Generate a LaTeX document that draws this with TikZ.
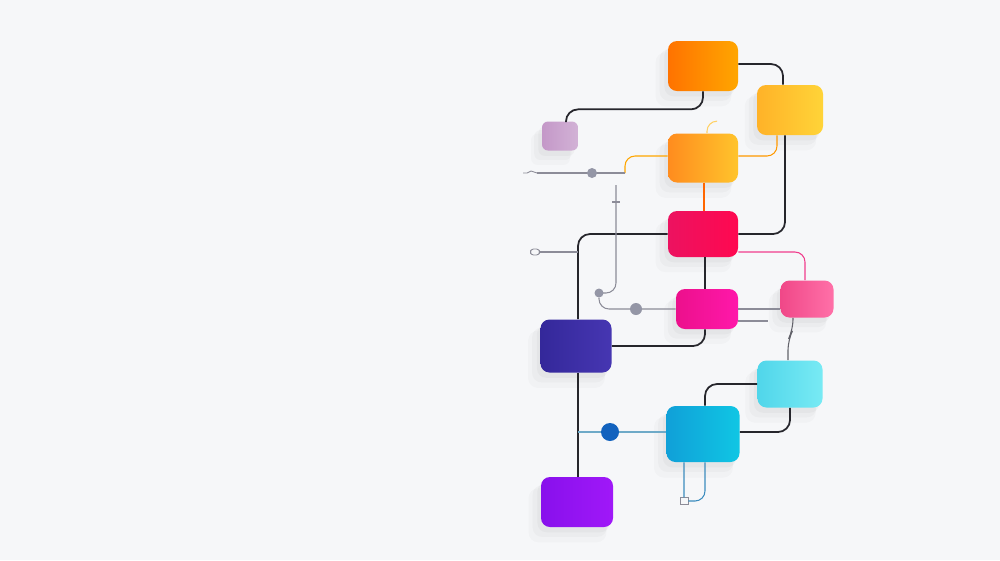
\documentclass[tikz,border=0pt]{standalone}
\usetikzlibrary{shadows}
\definecolor{bgcol}{HTML}{F6F7F9}
\definecolor{wirecol}{HTML}{26262C}
\definecolor{graycol}{HTML}{8C8C98}
\definecolor{dotcol}{HTML}{9496A6}
\definecolor{bluedot}{HTML}{1262BE}
\tikzset{
    box/.style={rounded corners=1.8mm, draw=none,
        drop shadow={opacity=0.04, shadow xshift=-5pt, shadow yshift=-7pt, shadow scale=1.08},
        drop shadow={opacity=0.05, shadow xshift=-4pt, shadow yshift=-5pt, shadow scale=1.03},
        drop shadow={opacity=0.06, shadow xshift=-2pt, shadow yshift=-3pt}},
    wire/.style={draw=wirecol, line width=1pt, rounded corners=2.4mm},
    thinwire/.style={line width=0.6pt, rounded corners=2mm},
    dot/.style={circle, fill=dotcol, inner sep=0pt, minimum size=#1},
    dot/.default=2mm
}
\begin{document}
\begin{tikzpicture}[x=0.2mm, y=-0.2mm]
        \fill[bgcol] (0,0) rectangle (1000,560);
        \useasboundingbox (0,0) rectangle (1000,560);
        %% Free ends of the wires
        \coordinate (lilx) at (566,122);
        \coordinate (j1) at (625,173);
        \coordinate (ar) at (537,173);
        \coordinate (vtop) at (616,185);
        \coordinate (b1) at (578,432);
        \coordinate (c1) at (578,252);
        %% Boxes
        \node[box, minimum width=14mm, minimum height=10mm,
            left color=orange!90!red, right color=orange!70!yellow] (o1) at (703,66) {};
        \node[box, minimum width=13.2mm, minimum height=10mm,
            left color={rgb,255:red,255;green,178;blue,40}, right color={rgb,255:red,255;green,212;blue,56}] (yel) at (790,110) {};
        \node[box, minimum width=7.2mm, minimum height=5.8mm, rounded corners=1.2mm,
            left color={rgb,255:red,196;green,152;blue,200}, right color={rgb,255:red,210;green,178;blue,214}] (lil) at (560,136) {};
        \node[box, minimum width=14mm, minimum height=9.8mm,
            left color={rgb,255:red,255;green,140;blue,30}, right color={rgb,255:red,255;green,196;blue,44}] (o2) at (703,158) {};
        \node[box, minimum width=14mm, minimum height=9.2mm,
            left color={rgb,255:red,236;green,18;blue,96}, right color={rgb,255:red,255;green,8;blue,80}] (red) at (703,234) {};
        \node[box, minimum width=12.4mm, minimum height=8mm,
            left color={rgb,255:red,236;green,16;blue,140}, right color={rgb,255:red,255;green,24;blue,170}] (mag) at (707,309) {};
        \node[box, minimum width=10.6mm, minimum height=7.4mm,
            left color={rgb,255:red,240;green,72;blue,136}, right color={rgb,255:red,255;green,112;blue,168}] (pnk) at (807,299) {};
        \node[box, minimum width=14.2mm, minimum height=10.6mm,
            left color={rgb,255:red,52;green,40;blue,154}, right color={rgb,255:red,70;green,54;blue,178}] (ind) at (576,346) {};
        \node[box, minimum width=13mm, minimum height=9.4mm,
            left color={rgb,255:red,80;green,214;blue,234}, right color={rgb,255:red,120;green,234;blue,244}] (cyl) at (790,384) {};
        \node[box, minimum width=14.6mm, minimum height=11.2mm,
            left color={rgb,255:red,16;green,160;blue,216}, right color={rgb,255:red,16;green,198;blue,228}] (blu) at (703,434) {};
        \node[box, minimum width=14.4mm, minimum height=10mm,
            left color={rgb,255:red,136;green,16;blue,236}, right color={rgb,255:red,160;green,24;blue,248}] (pur) at (577,502) {};
        %% Small icons
        \node[draw=graycol, line width=0.5pt, rounded corners=0.6mm, inner sep=0pt,
            minimum width=1.8mm, minimum height=1.2mm] (ic1) at (535,252) {};
        \node[draw=graycol, line width=0.5pt, inner sep=0pt,
            minimum width=1.6mm, minimum height=1.3mm] (ic2) at (684,501) {};
        %% Black wires
        \draw[wire] (o1.south) -- ++(0,18) -| (lilx);
        \draw[wire] ([yshift=0.4mm]o1.east) -| ([xshift=-1.4mm]yel.north);
        \draw[wire] ([xshift=-1mm]yel.south) |- (red.east);
        \draw[wire] (red.west) -| ([xshift=0.4mm]ind.north);
        \draw[wire] ([xshift=0.4mm]ind.south) -- ([xshift=0.2mm]pur.north);
        \draw[wire] ([xshift=0.4mm]red.south) -- ([xshift=-0.4mm]mag.north);
        \draw[wire] ([xshift=-0.4mm]mag.south) |- (ind.east);
        \draw[wire] (cyl.west) -| ([xshift=0.4mm]blu.north);
        \draw[wire] (cyl.south) |- ([yshift=0.4mm]blu.east);
        %% Orange wires
        \draw[thinwire, draw=orange!80!yellow] ([yshift=0.4mm]o2.east) -| ([xshift=-2.6mm]yel.south);
        \draw[thinwire, draw=orange!60!yellow!60] ([xshift=0.8mm]o2.north) -- ++(0,-12) -- ++(10,0);
        \draw[thinwire, draw=orange!70!yellow] ([yshift=0.4mm]o2.west) -| (j1);
        \draw[line width=1pt, draw=orange!80!red] ([xshift=0.2mm]o2.south) -- ([xshift=0.2mm]red.north);
        %% Gray wires
        \draw[thinwire, draw=graycol] (j1) -- (ar);
        \draw[graycol, line width=0.5pt] (ar) -- ++(-6,-2) -- ++(-4,2) -- ++(-4,0);
        \node[dot=2mm] (d1) at (592,173) {};
        \draw[thinwire, draw=graycol] (vtop) |- (599,293);
        \draw[graycol, line width=0.6pt] (612,202) -- (620,202);
        \node[dot=1.8mm] (d2) at (599,293) {};
        \draw[thinwire, draw=graycol] (d2) |- (mag.west);
        \node[dot=2.4mm] (d3) at (636,309) {};
        \draw[thinwire, draw=graycol] (mag.east) -- (mag.east -| pnk.west);
        \draw[thinwire, draw=graycol] ([yshift=-2.4mm]mag.east) -- ++(30,0);
        \draw[thinwire, draw=graycol!70!black] ([xshift=-2.8mm]pnk.south) -- ++(0,12) -- ++(-5,10) -- ([xshift=-0.4mm]cyl.north);
        \draw[thinwire, draw=graycol] (ic1) -- (c1);
        %% Pink wire
        \draw[thinwire, draw={rgb,255:red,240;green,60;blue,140}] ([yshift=-3.6mm]red.east) -| ([xshift=-0.4mm]pnk.north);
        %% Blue wires
        \draw[thinwire, draw={rgb,255:red,110;green,170;blue,200}] (b1) -- (b1 -| blu.west);
        \node[dot=3.6mm, fill=bluedot] (d4) at (610,432) {};
        \draw[thinwire, draw={rgb,255:red,60;green,140;blue,190}] ([xshift=-3.8mm]blu.south) -- (ic2.north);
        \draw[thinwire, draw={rgb,255:red,60;green,140;blue,190}] ([xshift=0.4mm]blu.south) |- (ic2.east);
    \end{tikzpicture}
\end{document}
